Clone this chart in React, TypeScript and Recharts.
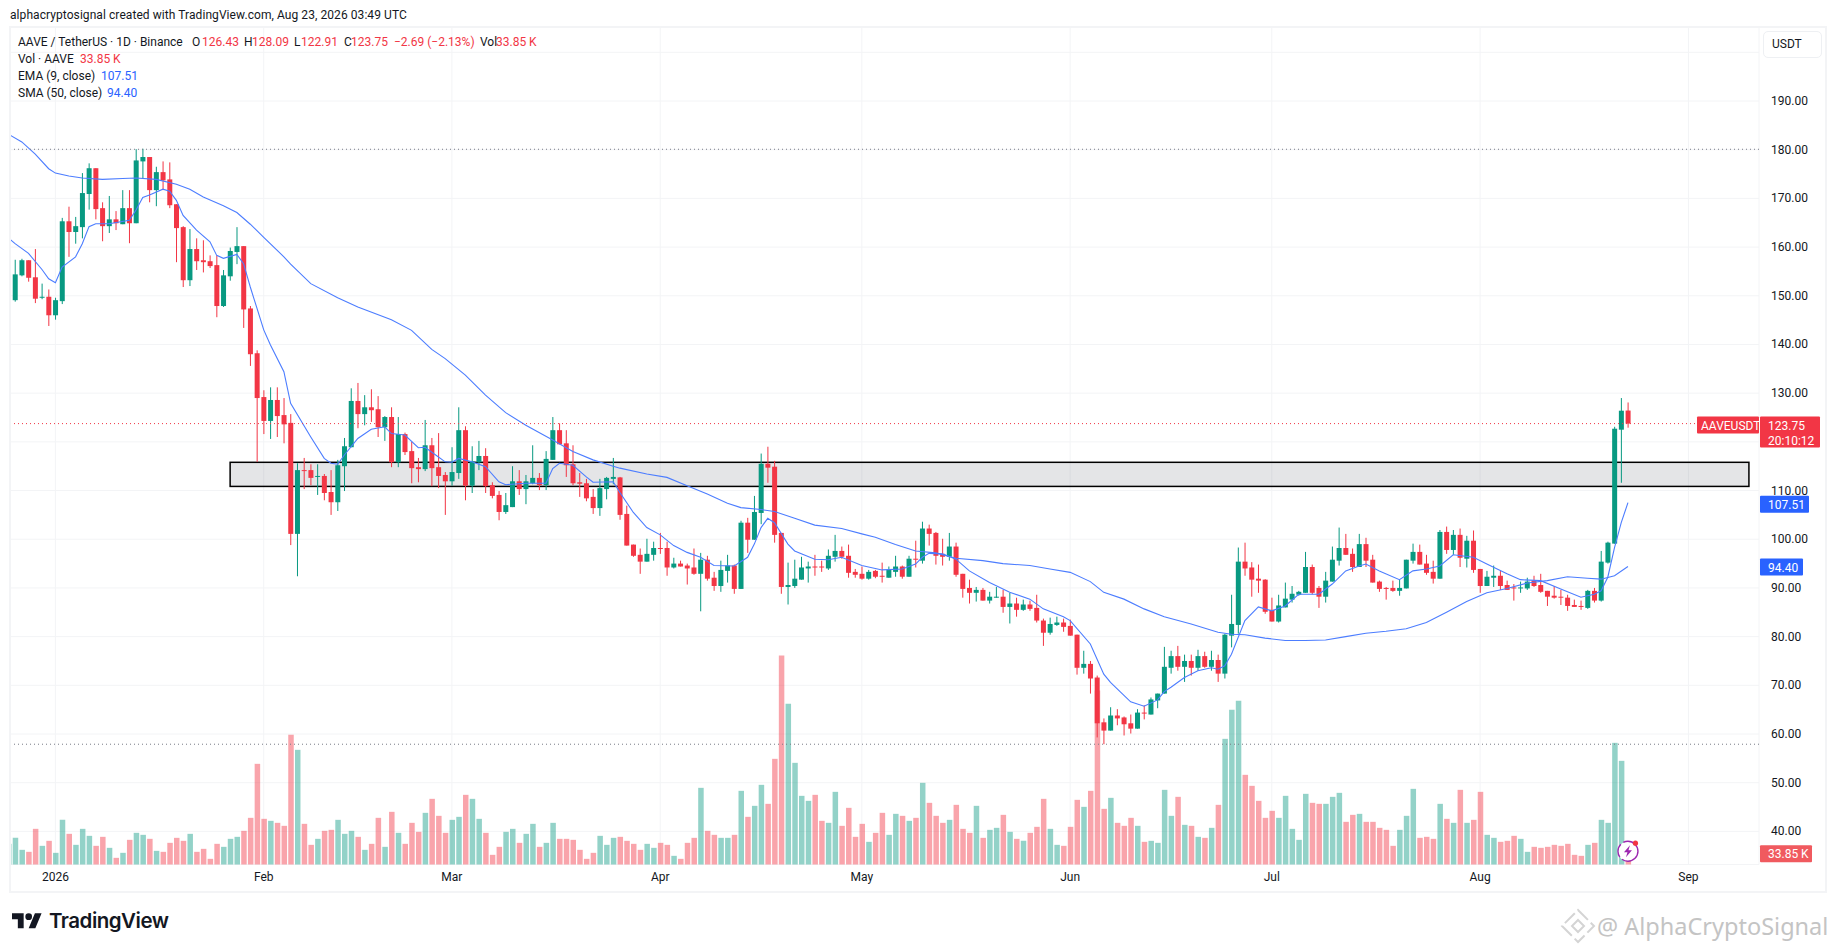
import React from 'react';
import {
  ComposedChart, Bar, Line, Cell, XAxis, YAxis, CartesianGrid, ReferenceLine, ReferenceArea, ReferenceDot,
} from 'recharts';

// daily candles, Dec 25 2025 .. Aug 23 2026
const opens = [
  148.8,149.1,154.2,157.3,153.8,149.6,149.8,146,148.9,165.3,
  163.1,164.1,170.9,176.2,168,164.3,165.7,164.7,168,164.9,
  177.6,178.5,171.7,175.4,173.9,168.8,164.1,153.2,159.6,157.3,
  157.1,156.3,147.9,154,159,160.2,147.4,138.2,129.2,124.3,
  128.6,125.5,123.9,101.1,114.2,114.2,112.8,113,109.7,107.6,
  115,118.9,128.4,125.7,127.1,126.7,123,125.1,115.8,121.6,
  118.1,114.8,114.4,119.3,114.8,113.2,111.9,113.6,122.4,111,
  115.8,117.1,111.1,109.1,105.6,106.6,111.9,110.3,111.5,112.6,
  111.1,116.3,122.4,119.7,115.4,111.7,111.5,108.7,106.4,110.3,
  112.4,112.7,105.2,98.9,96.8,95.4,96.8,98.2,98.2,94.2,
  95,94.6,94.2,92.9,95.8,92.1,90.4,93.5,94.6,89.8,
  103.4,99.9,105.4,115.5,114.9,101.3,90.2,90.4,91.7,94,
  94.4,94.4,94,96.4,97.6,96.6,93.3,92.9,91.9,93.5,
  92.5,92.1,93.3,94.4,92.3,96,95.6,102.2,101.3,97,
  96.4,98.5,92.9,90,89,89.6,87.4,88,88.2,86.1,
  86.8,85.5,86.6,85.9,83.3,80.8,82.4,82.9,82.2,80.4,
  73.6,74.4,71.6,62.4,60.7,63.8,63.4,62.2,61.1,64.4,
  64,66.9,68.3,73.6,76,73.8,75,73.6,76,73.8,
  75.2,72.4,80.2,82.4,95.4,94.2,91.9,91.7,85.5,83.1,
  86,87.6,88.6,89,94.3,90,88.2,91.3,95.6,98.2,
  97,94.3,99,95.8,91.3,90,90,89.4,89.9,95.6,
  97.4,95,93.3,91.9,101.5,97.8,100.9,96,99.7,93.9,
  90.4,92.1,92.5,90.6,90.1,89.9,89.9,91.5,90.6,89.4,
  88.4,88.2,88,86.5,86.3,85.9,89.4,87.4,95.2,99.1,
  122.5,126.43,
];
const highs = [
  150.3,157.4,157.6,157.3,159.6,152.5,151.3,149.6,166,168.3,
  166.2,175.2,177.2,176.2,169.2,170.5,167.4,171.7,171.7,180.1,
  180.2,178.5,176.5,177.6,177.4,168.8,164.3,163.7,161.8,161.4,
  158.3,158.3,155.3,159.9,164.1,160.2,147.9,138.8,130.6,131.2,
  131.2,129,125.7,115.6,116.7,115.4,115.4,113.4,114.2,116.3,
  120.8,131,132.1,129.6,130.8,129.4,125.3,127.1,125.1,121.9,
  120,116.7,124.5,120.8,121.8,113.8,118.9,127.1,123.2,119.1,
  120.2,118.7,111.7,109.9,109.5,115,114.2,113.2,119.3,113.6,
  118.1,125.1,123.8,122.4,119.3,113.6,112.4,110.3,112.4,112.8,
  116.7,112.8,106.9,98.9,98.1,100.1,99.5,101.3,99.5,96.2,
  95.6,95,98.1,97.2,96.6,93.3,95.6,96.8,94.8,103.8,
  104.4,108.9,117.6,119,116.1,101.3,95.2,95.8,96.4,95.4,
  96.8,95.6,97.9,100.9,98.5,98.9,93.9,94.4,93.7,93.7,
  95.2,94.4,96.6,94.6,96.6,99.7,103.6,103,101.5,100.1,
  101.3,99.3,92.9,91.7,90.2,90,89.2,90.2,89.6,89,
  88,87.6,87.4,88.6,83.7,83.9,84.1,83.7,83.5,80.4,
  77.1,75,72,63.2,65.5,65.1,63.6,64,65.1,65.9,
  67.5,68.3,77.9,77.1,78.1,76.3,76.3,77.3,76.9,77.1,
  76.3,80.6,88.6,98.3,99.3,95.3,94.8,91.8,88,88.6,
  91.1,90.4,89.4,97.4,94.8,90.4,93.3,98.5,102.4,101.1,
  98.1,101.1,100.3,96.8,91.5,90.2,91.5,91.7,95.8,99.1,
  98.9,96.8,95.6,101.9,102.6,101.9,102.2,100.7,101.8,93.9,
  93.5,94.6,93.5,91.5,90.8,91.3,92.1,92.5,92.9,89.4,
  90.4,89.6,88.6,87.6,87.4,89.6,90,97.6,99.5,123.1,
  129,128.09,
];
const lows = [
  148.5,148.8,154,152.9,148.5,149.3,143.8,145.1,148.3,158,
  160.7,161.8,167.7,165.7,161.2,162.9,163.5,164.7,160.8,164.9,
  174.1,169.2,168.4,171.7,168,156.9,151.8,152,155.3,154.8,
  155.7,145.6,147.7,153.1,156.5,143.4,135.6,115.9,121.6,120.6,
  121,119.7,98.8,92.4,110.3,111.1,109.1,108,105,105.8,
  109.9,118.9,122.8,123.4,124.1,121,120.2,114.8,114.8,117.3,
  111.5,111.7,114,110.9,110.5,105,111,112.4,108,109.5,
  114.2,109.5,108.4,103.9,105.2,106.6,109.1,107.2,111.3,110.1,
  110.1,116.3,119.5,112.8,111.1,108.7,107.8,105.2,104.8,108.2,
  111.3,104,98.7,96.4,92.9,95.4,95.6,97,92.5,94,
  94.4,90.7,92.7,85.2,91.5,89.4,89.2,91.1,88.8,89.8,
  97.2,99.9,103.1,111.6,99.3,88.8,86.6,90,91.7,91.1,
  92.5,93.3,93.7,95.4,96,92.1,92.1,91.7,91.7,92,
  91.1,92.1,92.3,91.9,92.3,94.2,95,98.7,94.8,94.6,
  95.6,92.3,88,86.8,87.2,87.4,86.8,88,84.9,82.7,
  84.1,85.3,85.3,82.9,78.1,80.4,82.2,81,80.2,72.2,
  72.4,68.3,59.3,57.9,60.7,61.8,59.7,60.1,61.1,63,
  64,65.3,68.3,72.4,73,70.7,72,73,73.6,73,
  70.7,71.4,77.8,80.6,92.5,88.2,89,84.7,83.1,82.9,
  86,87,88.4,89,88.7,85.9,87,91.3,94.6,96.8,
  93.3,94.3,94.3,91.1,89.2,87.6,89.2,88.4,89.9,95,
  94.8,92.7,90.9,91.9,97,96.8,94.3,94.2,93.1,89,
  90.4,90.2,89.6,89.6,87.4,89,89.6,90.2,89,86.3,
  87.8,86.5,85.3,86.1,85.5,85.7,87,87.2,95,99.1,
  111.6,122.91,
];
const closes = [
  149.6,154.4,157.3,153.7,149.4,149.8,146,149.1,165.3,163.1,
  164.3,171.1,176.2,167.8,164.3,165.7,164.9,168,164.9,177.8,
  178.5,171.7,175.4,173.7,168.6,163.9,153.2,159.6,157.1,156.9,
  156.1,147.9,154.2,159.2,160.2,147.2,138,129,124.3,128.6,
  125.3,123.6,101.1,114.2,114,112.6,113,109.5,107.6,115.2,
  119.1,128.4,125.7,127.1,126.5,123,125.1,115.8,121.6,117.9,
  114.6,114.4,119.3,114.6,113,111.9,113.8,122.4,111,116,
  117.1,110.9,108.9,105.6,107,111.9,110.3,111.9,112.6,111.1,
  116.5,122.4,119.5,115.2,111.5,111.4,108.4,106.4,110.5,112.6,
  112.8,105,98.7,96.6,95.4,97,98.2,98.1,94.2,95,
  94.4,94,92.9,95.8,91.9,90.4,93.7,94.6,89.8,103.4,
  99.9,105.6,115.5,114.7,100.9,90.2,90.6,91.9,94.2,94.4,
  94.2,94.2,96.6,97.6,96.4,93.1,92.7,91.9,93.3,92.3,
  92.3,93.7,94.4,92.3,96,95.8,102.2,101.1,96.6,96.4,
  98.5,92.7,89.8,89,89.6,87.4,88.2,88.2,86.1,86.8,
  85.5,86.6,85.7,83.3,80.8,82.6,82.9,82,80.2,73.6,
  74.4,71.4,62.2,60.7,63.8,63.2,62,61.1,64.4,64.2,
  67.1,68.3,73.8,76,73.8,75,73.6,76,73.8,75.2,
  72.4,80.4,82.6,95.4,94,91.7,91.5,85.1,83.1,86.4,
  87.8,88.8,89.2,94.3,89,88.2,91.5,95.8,98.2,96.8,
  94.3,99,95.6,91.1,89.8,89.8,89.4,90,95.8,97.4,
  94.8,93.1,91.9,101.5,97.8,100.9,96.2,99.7,93.7,90.4,
  92.3,92.5,90.4,89.6,89.9,90.1,91.3,90.4,89.2,88.2,
  88,88,86.3,86.1,86.1,89.4,87.4,95.4,99.3,122.7,
  126.4,123.75,
];
// volume in thousands of AAVE
const volumes = [
  62,80,44,38,107,56,71,35,134,92,
  59,107,86,56,83,50,20,35,74,95,
  89,77,41,38,65,80,71,92,38,47,
  17,62,53,77,83,101,140,302,137,131,
  125,116,389,344,122,59,77,101,104,134,
  92,101,83,44,62,140,53,158,95,62,
  125,98,155,197,146,95,134,143,209,197,
  137,95,29,53,98,107,65,92,122,53,
  65,125,77,77,74,44,17,35,86,59,
  80,83,71,62,44,62,50,65,59,26,
  17,65,80,230,101,89,80,80,89,221,
  143,176,239,182,317,627,482,305,206,191,
  209,131,125,218,116,170,83,122,68,95,
  155,89,152,146,131,140,245,185,146,125,
  134,179,107,95,176,80,104,110,149,98,
  77,71,95,113,197,107,59,56,113,194,
  173,221,522,167,200,125,116,140,116,68,
  71,65,224,146,203,119,116,83,80,110,
  179,377,464,491,269,236,191,140,161,140,
  206,107,74,212,185,182,182,203,215,128,
  149,152,128,128,110,104,56,104,146,227,
  80,83,77,182,137,125,224,125,134,218,
  89,80,68,71,86,77,38,53,50,53,
  59,56,62,29,26,59,65,134,125,365,
  311,33.85,
];

// moving averages, read at the days where the line could be picked out
const smaDays = [
  0,2,4,6,7,9,11,14,17,19,22,25,27,29,32,34,36,38,41,42,45,49,52,57,60,63,65,68,71,74,77,81,84,87,
  90,91,95,98,101,104,107,109,112,114,117,120,124,127,129,132,135,138,141,145,148,152,155,158,161,163,166,169,172,176,
  180,182,184,187,190,193,196,199,202,205,208,211,214,217,220,223,226,229,232,235,237,239,241,
];
const smaValues = [
  183.2,181.6,179.1,176.1,175.2,174.6,174.2,173.9,174.1,174.2,173.9,172.9,171.9,170.3,168.5,167.1,164.7,162,158,156.5,152.5,149.6,147.7,145.1,142.9,139,137.1,133.7,129.6,126,123.4,120.4,118,116.3,
  115,114.6,113.4,112.7,111,109.3,107.4,106.5,106.1,105.7,104.3,102.9,102.2,101.1,100.4,98.9,97.6,97.2,96.1,95.6,95,94.6,93.9,93.2,91.3,89.1,87.7,85.7,84.1,82.6,
  80.9,80.5,80.4,79.7,79.2,79.2,79.3,80,80.7,81.1,81.6,82.9,85,87.2,89,89.9,91,91.5,92.3,92,91.8,92.5,94.4,
];
const emaDays = [
  0,1,3,5,6,7,8,10,11,12,13,15,18,19,20,21,23,24,25,26,28,30,31,32,34,35,36,37,38,39,41,42,45,47,48,49,50,52,54,56,57,59,
  61,62,64,65,66,67,69,71,73,74,77,80,81,82,84,86,87,90,91,93,95,97,99,101,103,105,108,110,111,112,113,114,116,117,120,122,124,127,
  130,133,135,136,137,139,141,143,146,149,152,154,157,158,161,163,164,167,169,171,172,173,175,177,179,180,181,182,184,186,188,190,
  192,195,197,199,201,202,204,207,209,211,213,215,218,220,223,225,228,231,234,236,237,238,239,240,241,
];
const emaValues = [
  161.9,160.7,158.7,155.4,153.5,152.7,155.9,158,160.7,164.2,164.8,164.8,165.5,167.6,170.2,170.7,171.9,171.5,169.6,166.5,163.5,161.1,158.3,157.7,158.5,156.6,151.8,147.4,143,139.9,134.4,127.9,121,116.6,115.6,115.4,117.3,120.7,122.6,123.1,121.7,121.4,
  118.8,118.9,116.9,115.9,115.8,116.6,115.9,114.9,111.8,111.2,111.5,111.5,114.5,115.6,115.2,112.8,111.7,111.8,109.6,105.5,102.4,100.9,98.7,97.3,96.3,94.6,94.5,96.3,99,102.4,104.3,103.4,99,97.6,95.9,95.8,96.3,94.6,
  93.7,93.9,94.9,96.3,97.1,97,95.9,93.5,91.1,89.1,87.7,85.7,84.1,83.3,78.5,72.3,70.6,66.6,65.7,67,68.7,69.6,71.6,73,73.6,73.3,74,76.4,83.3,86.1,85.3,86.3,
  88.7,88.7,90.8,93.5,94.5,94.9,93.5,91.7,93.5,93.9,94.5,96.8,96.3,94.9,92.9,91.7,91.5,89.8,88.1,88.7,89.4,92.2,98.3,103.4,107.51,
];

const dayCount = 261; // visible slots including the empty right side
const monthTicks = [7, 38, 66, 97, 127, 158, 188, 219, 250];
const monthLabels = ['2026', 'Feb', 'Mar', 'Apr', 'May', 'Jun', 'Jul', 'Aug', 'Sep'];
const priceTicks = [40, 50, 60, 70, 80, 90, 100, 110, 120, 130, 140, 150, 160, 170, 180, 190, 200];
const hiddenPriceLabels = [120, 200]; // covered by the last price tag and the USDT button

const RED = '#f23645';
const GREEN = '#089981';
const BLUE = '#2962ff';
const TEXT = '#131722';
const FONT = 'Roboto, "Noto Sans", sans-serif';

const rows = Array.from({ length: dayCount }, (_, day) => {
  const emaAt = emaDays.indexOf(day);
  const smaAt = smaDays.indexOf(day);
  return {
    day,
    open: opens[day],
    high: highs[day],
    low: lows[day],
    close: closes[day],
    volume: volumes[day],
    ema: emaAt >= 0 ? emaValues[emaAt] : null,
    sma: smaAt >= 0 ? smaValues[smaAt] : null,
  };
});

// Bar gives the low-high range in pixels, the body is placed inside it
function Candle(props: any) {
  const { x, y, width, height, payload } = props;
  if (payload.open === undefined) return null;
  const range = payload.high - payload.low;
  const perUnit = range > 0 ? height / range : 0;
  const color = payload.close >= payload.open ? GREEN : RED;
  const top = y + (payload.high - Math.max(payload.open, payload.close)) * perUnit;
  const bottom = y + (payload.high - Math.min(payload.open, payload.close)) * perUnit;
  const mid = x + width / 2;
  return (
    <g>
      <rect x={mid - 0.5} y={y} width={1} height={height} fill={color} />
      <rect x={x} y={top} width={width} height={Math.max(bottom - top, 1)} fill={color} />
    </g>
  );
}

function ZoneBox(props: any) {
  const { x, y, width, height } = props;
  const band = width / 227;
  return (
    <rect x={x + band / 2} y={y} width={width - band} height={height}
      fill="rgba(120,123,134,0.2)" stroke="#000" strokeWidth={1.5} />
  );
}

function priceTag(lines: string[], color: string, tagWidth: number, tagHeight: number, up: number, name?: string) {
  return (props: any) => {
    const { x, y, width } = props.viewBox;
    const left = x + width + 1;
    return (
      <g fontFamily={FONT} fontSize={12} fill="#fff">
        {name && <rect x={left - 63} y={y - up} width={62} height={17} fill={color} rx={1} />}
        {name && <text x={left - 59} y={y - up + 13}>{name}</text>}
        <rect x={left} y={y - up} width={tagWidth} height={tagHeight} fill={color} rx={1} />
        {lines.map((t, i) => (
          <text key={t} x={left + 8} y={y - up + 13 + i * 15}>{t}</text>
        ))}
      </g>
    );
  };
}

function AlertIcon(props: any) {
  const { cx, cy } = props;
  const y = cy - 2;
  return (
    <g>
      <circle cx={cx} cy={y} r={10} fill="#fff" stroke="#9c27b0" strokeWidth={1.4} strokeDasharray="22 3 14 3" />
      <path d={`M${cx + 2} ${y - 6} L${cx - 4} ${y + 1} L${cx - 0.5} ${y + 1} L${cx - 2} ${y + 6} L${cx + 4} ${y - 1} L${cx + 0.5} ${y - 1} Z`} fill="#9c27b0" />
      <circle cx={cx + 7.5} cy={y - 8} r={2.6} fill={RED} />
    </g>
  );
}

function PriceTick(props: any) {
  const { x, y, payload } = props;
  if (hiddenPriceLabels.includes(payload.value)) return null;
  return (
    <text x={x} y={y + 4} fontSize={12} fill={TEXT} fontFamily={FONT}>{payload.value.toFixed(2)}</text>
  );
}

function Txt({ x, y, color = TEXT, size = 12, children }: any) {
  return (
    <div style={{ position: 'absolute', left: x, top: y - 8, lineHeight: '16px', fontSize: size, color, whiteSpace: 'nowrap', fontFamily: FONT }}>
      {children}
    </div>
  );
}

export default function App() {
  return (
    <div style={{ position: 'absolute', left: 0, top: 0, width: 1835, height: 951, background: '#fff', overflow: 'hidden' }}>
      <ComposedChart width={1835} height={951} data={rows} margin={{ top: 27.5, right: 10, bottom: 59.5, left: 5 }}>
        <CartesianGrid stroke="#f3f4f6" strokeWidth={1} />
        <XAxis dataKey="day" ticks={monthTicks} interval={0} height={27} axisLine={false} tickLine={false} tickMargin={2}
          tickFormatter={(v: number) => monthLabels[monthTicks.indexOf(v)]}
          tick={{ fontSize: 12, fill: TEXT, fontFamily: FONT }} />
        <XAxis dataKey="day" xAxisId="vol" hide />
        <YAxis orientation="right" width={66} domain={[33.2, 205.1]} ticks={priceTicks} interval={0}
          axisLine={false} tickLine={false} tickMargin={6} tick={<PriceTick />} />
        <YAxis yAxisId="vol" hide domain={[0, 2511]} />

        <ReferenceArea x1={33} x2={259} y1={110.85} y2={115.8} shape={<ZoneBox />} ifOverflow="visible" />

        <Bar dataKey="volume" xAxisId="vol" yAxisId="vol" barSize={5.5} isAnimationActive={false}>
          {rows.map(r => (
            <Cell key={r.day} fill={r.close >= r.open ? 'rgba(8,153,129,0.44)' : 'rgba(242,54,69,0.45)'} />
          ))}
        </Bar>
        <Bar dataKey={(d: any) => (d.open === undefined ? null : [d.low, d.high])} barSize={5} shape={<Candle />} isAnimationActive={false} />

        <Line dataKey="sma" stroke="#4c7dff" strokeWidth={1.1} dot={false} connectNulls isAnimationActive={false} />
        <Line dataKey="ema" stroke="#4c7dff" strokeWidth={1.1} dot={false} connectNulls isAnimationActive={false} />

        <ReferenceLine y={180.09} stroke="#787b86" strokeDasharray="1 3" />
        <ReferenceLine y={57.9} stroke="#787b86" strokeDasharray="1 3" />
        <ReferenceLine y={123.75} stroke={RED} strokeDasharray="1 3"
          label={priceTag(['123.75', '20:10:12'], RED, 60, 31, 7, 'AAVEUSDT')} />
        <ReferenceLine y={107.51} stroke="none" label={priceTag(['107.51'], BLUE, 49, 17, 7)} />
        <ReferenceLine y={94.4} stroke="none" label={priceTag(['94.40'], BLUE, 43, 17, 8)} />
        <ReferenceLine yAxisId="vol" y={33.85} stroke="none" label={priceTag(['33.85 K'], '#f05a5f', 52, 17, 8)} />
        <ReferenceDot yAxisId="vol" x={241} y={33.85} shape={<AlertIcon />} />
      </ComposedChart>

      {/* left mask and frame around the pane */}
      <div style={{ position: 'absolute', left: 0, top: 0, width: 9, height: 951, background: '#fff' }} />
      <div style={{ position: 'absolute', left: 9, top: 26, width: 1814, height: 863, border: '2px solid #f3f4f6', pointerEvents: 'none' }} />

      <Txt x={10} y={15}><span style={{ letterSpacing: 0.07 }}>alphacryptosignal created with TradingView.com, Aug 23, 2026 03:49 UTC</span></Txt>
      <Txt x={18} y={42}>AAVE / TetherUS · 1D · Binance</Txt>
      <Txt x={192} y={42}>O</Txt><Txt x={202} y={42} color={RED}>126.43</Txt>
      <Txt x={244} y={42}>H</Txt><Txt x={252} y={42} color={RED}>128.09</Txt>
      <Txt x={294} y={42}>L</Txt><Txt x={301} y={42} color={RED}>122.91</Txt>
      <Txt x={344} y={42}>C</Txt><Txt x={351} y={42} color={RED}>123.75</Txt>
      <Txt x={394} y={42} color={RED}>−2.69 (−2.13%)</Txt>
      <Txt x={480} y={42}>Vol</Txt><Txt x={496} y={42} color={RED}>33.85 K</Txt>
      <Txt x={18} y={59}>Vol · AAVE</Txt><Txt x={80} y={59} color={RED}>33.85 K</Txt>
      <Txt x={18} y={76}>EMA (9, close)</Txt><Txt x={101} y={76} color={BLUE}>107.51</Txt>
      <Txt x={18} y={93}>SMA (50, close)</Txt><Txt x={107} y={93} color={BLUE}>94.40</Txt>

      <div style={{ position: 'absolute', left: 1763, top: 31, width: 57, height: 25, border: '1px solid #eef0f3', borderRadius: 5, background: '#fff' }} />
      <Txt x={1772} y={44}>USDT</Txt>

      {/* TradingView logo */}
      <svg style={{ position: 'absolute', left: 12, top: 910 }} width={30} height={20} viewBox="0 0 36 24">
        <path d="M14 22H7V11H0V4h14v18zM28 22h-8l7.5-18h8L28 22z" fill={TEXT} />
        <circle cx={20} cy={8} r={4} fill={TEXT} />
      </svg>
      <div style={{ position: 'absolute', left: 49, top: 907, fontFamily: 'Inter, sans-serif', fontWeight: 600, fontSize: 20.5, lineHeight: '28px', color: TEXT, letterSpacing: -0.5 }}>TradingView</div>

      {/* watermark */}
      <svg style={{ position: 'absolute', left: 1560, top: 908 }} width={36} height={36} viewBox="0 0 36 36">
        <g fill="none" stroke="#d4d4d4" strokeWidth={2}>
          <path d="M18 2 L34 18 L18 34 L2 18 Z" strokeDasharray="14 4" />
          <path d="M18 12 L24 18 L18 24 L12 18 Z" />
        </g>
      </svg>
      <div style={{ position: 'absolute', left: 1597, top: 908, fontFamily: '"Noto Sans", sans-serif', fontSize: 23.5, lineHeight: '36px', color: '#c4c4c4', whiteSpace: 'nowrap' }}>@ AlphaCryptoSignal</div>
    </div>
  );
}
